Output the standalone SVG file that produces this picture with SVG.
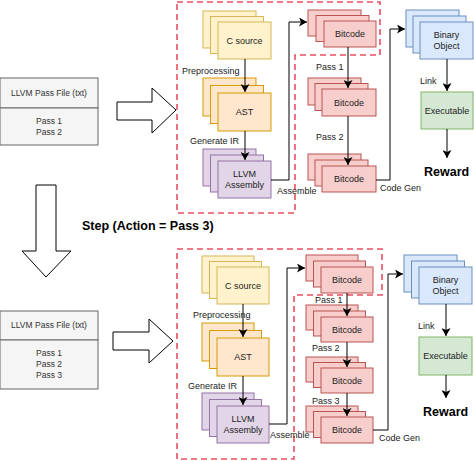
<svg xmlns="http://www.w3.org/2000/svg" width="474" height="461" viewBox="0 0 474 461">
<defs>
<marker id="ah" markerUnits="userSpaceOnUse" markerWidth="9" markerHeight="9" refX="8" refY="4.5" orient="auto">
<path d="M0,0 L8,4.5 L0,9 L2,4.5 Z" fill="#000"/>
</marker>
<style>
text{font-family:"Liberation Sans",Arial,sans-serif;fill:#222;}
.n{font-size:9px;text-anchor:middle;}
.l{font-size:9px;}
.b{font-size:12.5px;font-weight:bold;fill:#000;}
.y{fill:#fff2cc;stroke:#d6b656;stroke-width:1;}
.o{fill:#ffe6cc;stroke:#d79b00;stroke-width:1;}
.p{fill:#e1d5e7;stroke:#9673a6;stroke-width:1;}
.r{fill:#f8cecc;stroke:#b85450;stroke-width:1;}
.u{fill:#dae8fc;stroke:#6c8ebf;stroke-width:1;}
.g{fill:#d5e8d4;stroke:#82b366;stroke-width:1;}
.t{fill:#f5f5f5;stroke:#666;stroke-width:1;}
.tt{font-size:8.5px;text-anchor:middle;fill:#333;}
.d{fill:none;stroke:#ea4f62;stroke-width:1.6;stroke-dasharray:6 4;}
.c{fill:none;stroke:#000;stroke-width:1;marker-end:url(#ah);}
.big{fill:#fff;stroke:#000;stroke-width:1;}
</style>
</defs>
<rect width="474" height="461" fill="#fff"/>

<!-- dashed regions -->
<g id="regions">
<path class="d" d="M177,2 H380 V55 H295 V213 H177 Z"/>
<path class="d" d="M177,249 H382 V295 H294 V459 H177 Z"/>
</g>

<!-- ===== TOP ===== -->
<g id="passfile1">
<rect class="t" x="0" y="78" width="98" height="30"/>
<rect class="t" x="0" y="108" width="98" height="37"/>
<text class="tt" x="49" y="96">LLVM Pass File (txt)</text>
<text class="tt" x="49" y="124">Pass 1</text>
<text class="tt" x="49" y="135">Pass 2</text>
</g>
<g id="bigarrow1"><polygon class="big" points="117,102 152,102 152,88 176,110 152,133 152,120 117,120"/></g>

<g id="csource1">
<rect class="y" x="203" y="11" width="53" height="37"/>
<rect class="y" x="210.5" y="16.5" width="53" height="37"/>
<rect class="y" x="218" y="22" width="53" height="37"/>
<text class="n" x="244.5" y="43.5">C source</text>
</g>
<g id="ast1">
<rect class="o" x="203" y="78" width="53" height="38"/>
<rect class="o" x="210.5" y="85.5" width="53" height="38"/>
<rect class="o" x="218" y="93" width="53" height="38"/>
<text class="n" x="244.5" y="115">AST</text>
</g>
<g id="llvm1">
<rect class="p" x="203" y="149" width="53" height="37"/>
<rect class="p" x="210.5" y="155" width="53" height="37"/>
<rect class="p" x="218" y="161" width="53" height="37"/>
<text class="n" x="244.5" y="177">LLVM</text>
<text class="n" x="244.5" y="188">Assembly</text>
</g>
<g id="bc1a">
<rect class="r" x="308" y="10" width="53" height="26"/>
<rect class="r" x="316" y="15.5" width="53" height="26"/>
<rect class="r" x="324" y="21" width="52" height="26"/>
<text class="n" x="350" y="37">Bitcode</text>
</g>
<g id="bc1b">
<rect class="r" x="308" y="78" width="53" height="27"/>
<rect class="r" x="315" y="83.5" width="53" height="27"/>
<rect class="r" x="322" y="89" width="54" height="27"/>
<text class="n" x="349" y="105.5">Bitcode</text>
</g>
<g id="bc1c">
<rect class="r" x="308" y="154" width="53" height="26"/>
<rect class="r" x="315" y="160" width="53" height="26"/>
<rect class="r" x="322" y="166" width="54" height="26"/>
<text class="n" x="349" y="182">Bitcode</text>
</g>
<g id="binary1">
<rect class="u" x="406" y="10" width="53" height="37"/>
<rect class="u" x="413" y="16" width="53" height="37"/>
<rect class="u" x="420" y="22" width="53" height="37"/>
<text class="n" x="446.5" y="38">Binary</text>
<text class="n" x="446.5" y="49">Object</text>
</g>
<g id="exe1">
<rect class="g" x="421" y="92" width="52" height="37"/>
<text class="n" x="447" y="113.5">Executable</text>
</g>
<g id="reward1"><text class="b" x="424" y="176">Reward</text></g>

<!-- ===== MIDDLE ===== -->
<g id="bigarrowdown"><polygon class="big" points="36,185 56,185 56,251 71,251 46,277 22,251 36,251"/></g>
<g id="steplabel"><text class="b" x="82" y="229.5">Step (Action = Pass 3)</text></g>

<!-- ===== BOTTOM ===== -->
<g id="passfile2">
<rect class="t" x="0" y="311" width="98" height="29"/>
<rect class="t" x="0" y="340" width="98" height="49"/>
<text class="tt" x="49" y="328">LLVM Pass File (txt)</text>
<text class="tt" x="49" y="356">Pass 1</text>
<text class="tt" x="49" y="367">Pass 2</text>
<text class="tt" x="49" y="378">Pass 3</text>
</g>
<g id="bigarrow2"><polygon class="big" points="113,332 149,332 149,319 173,341 149,363 149,350 113,350"/></g>

<g id="csource2">
<rect class="y" x="202" y="256" width="52" height="37"/>
<rect class="y" x="209.5" y="261.5" width="52" height="37"/>
<rect class="y" x="217" y="267" width="52" height="37"/>
<text class="n" x="243" y="288.5">C source</text>
</g>
<g id="ast2">
<rect class="o" x="202" y="323" width="52" height="38"/>
<rect class="o" x="209.5" y="330.5" width="52" height="38"/>
<rect class="o" x="217" y="338" width="52" height="38"/>
<text class="n" x="243" y="360">AST</text>
</g>
<g id="llvm2">
<rect class="p" x="202" y="393" width="52" height="37"/>
<rect class="p" x="209.5" y="399.5" width="52" height="37"/>
<rect class="p" x="217" y="406" width="52" height="37"/>
<text class="n" x="243" y="422">LLVM</text>
<text class="n" x="243" y="433">Assembly</text>
</g>
<g id="bc2a">
<rect class="r" x="306" y="255" width="52" height="26"/>
<rect class="r" x="313.5" y="261" width="52" height="26"/>
<rect class="r" x="321" y="267" width="52" height="26"/>
<text class="n" x="347" y="283">Bitcode</text>
</g>
<g id="bc2b">
<rect class="r" x="306" y="305" width="52" height="25"/>
<rect class="r" x="313.5" y="311" width="52" height="25"/>
<rect class="r" x="321" y="317" width="52" height="25"/>
<text class="n" x="347" y="332.5">Bitcode</text>
</g>
<g id="bc2c">
<rect class="r" x="306" y="357" width="52" height="25"/>
<rect class="r" x="313.5" y="362.5" width="52" height="25"/>
<rect class="r" x="321" y="368" width="52" height="25"/>
<text class="n" x="347" y="383.5">Bitcode</text>
</g>
<g id="bc2d">
<rect class="r" x="306" y="406" width="52" height="26"/>
<rect class="r" x="313.5" y="411.5" width="52" height="26"/>
<rect class="r" x="321" y="417" width="52" height="26"/>
<text class="n" x="347" y="433">Bitcode</text>
</g>
<g id="binary2">
<rect class="u" x="404" y="255" width="53" height="37"/>
<rect class="u" x="411.5" y="261" width="53" height="37"/>
<rect class="u" x="419" y="267" width="53" height="37"/>
<text class="n" x="445.5" y="283">Binary</text>
<text class="n" x="445.5" y="294">Object</text>
</g>
<g id="exe2">
<rect class="g" x="419" y="337" width="53" height="38"/>
<text class="n" x="445.5" y="359">Executable</text>
</g>
<g id="reward2"><text class="b" x="423" y="415.5">Reward</text></g>

<!-- connectors -->
<g id="connectors">
<path class="c" d="M245,59 V92"/>
<path class="c" d="M245,131 V160"/>
<path class="c" d="M271,180 H289 V22 H307"/>
<path class="c" d="M348,47 V88"/>
<path class="c" d="M348,116 V165"/>
<path class="c" d="M376,180 H390 V29 H405"/>
<path class="c" d="M447,59 V91"/>
<path class="c" d="M447,129 V158"/>

<path class="c" d="M243,304 V337"/>
<path class="c" d="M243,376 V405"/>
<path class="c" d="M269,424 H287 V268 H305"/>
<path class="c" d="M347,293 V316"/>
<path class="c" d="M347,342 V367"/>
<path class="c" d="M347,393 V416"/>
<path class="c" d="M373,430 H388 V274 H403"/>
<path class="c" d="M446,304 V336"/>
<path class="c" d="M446,375 V398"/>
</g>

<!-- edge labels -->
<g id="edgelabels">
<text class="l" x="182" y="74">Preprocessing</text>
<text class="l" x="190" y="144">Generate IR</text>
<text class="l" x="277" y="194">Assemble</text>
<text class="l" x="316" y="70">Pass 1</text>
<text class="l" x="316" y="140">Pass 2</text>
<text class="l" x="380" y="191">Code Gen</text>
<text class="l" x="420" y="84">Link</text>

<text class="l" x="193" y="318">Preprocessing</text>
<text class="l" x="188" y="389">Generate IR</text>
<text class="l" x="270" y="438">Assemble</text>
<text class="l" x="315" y="303">Pass 1</text>
<text class="l" x="312" y="351">Pass 2</text>
<text class="l" x="312" y="404">Pass 3</text>
<text class="l" x="379" y="441">Code Gen</text>
<text class="l" x="418" y="329">Link</text>
</g>
</svg>
